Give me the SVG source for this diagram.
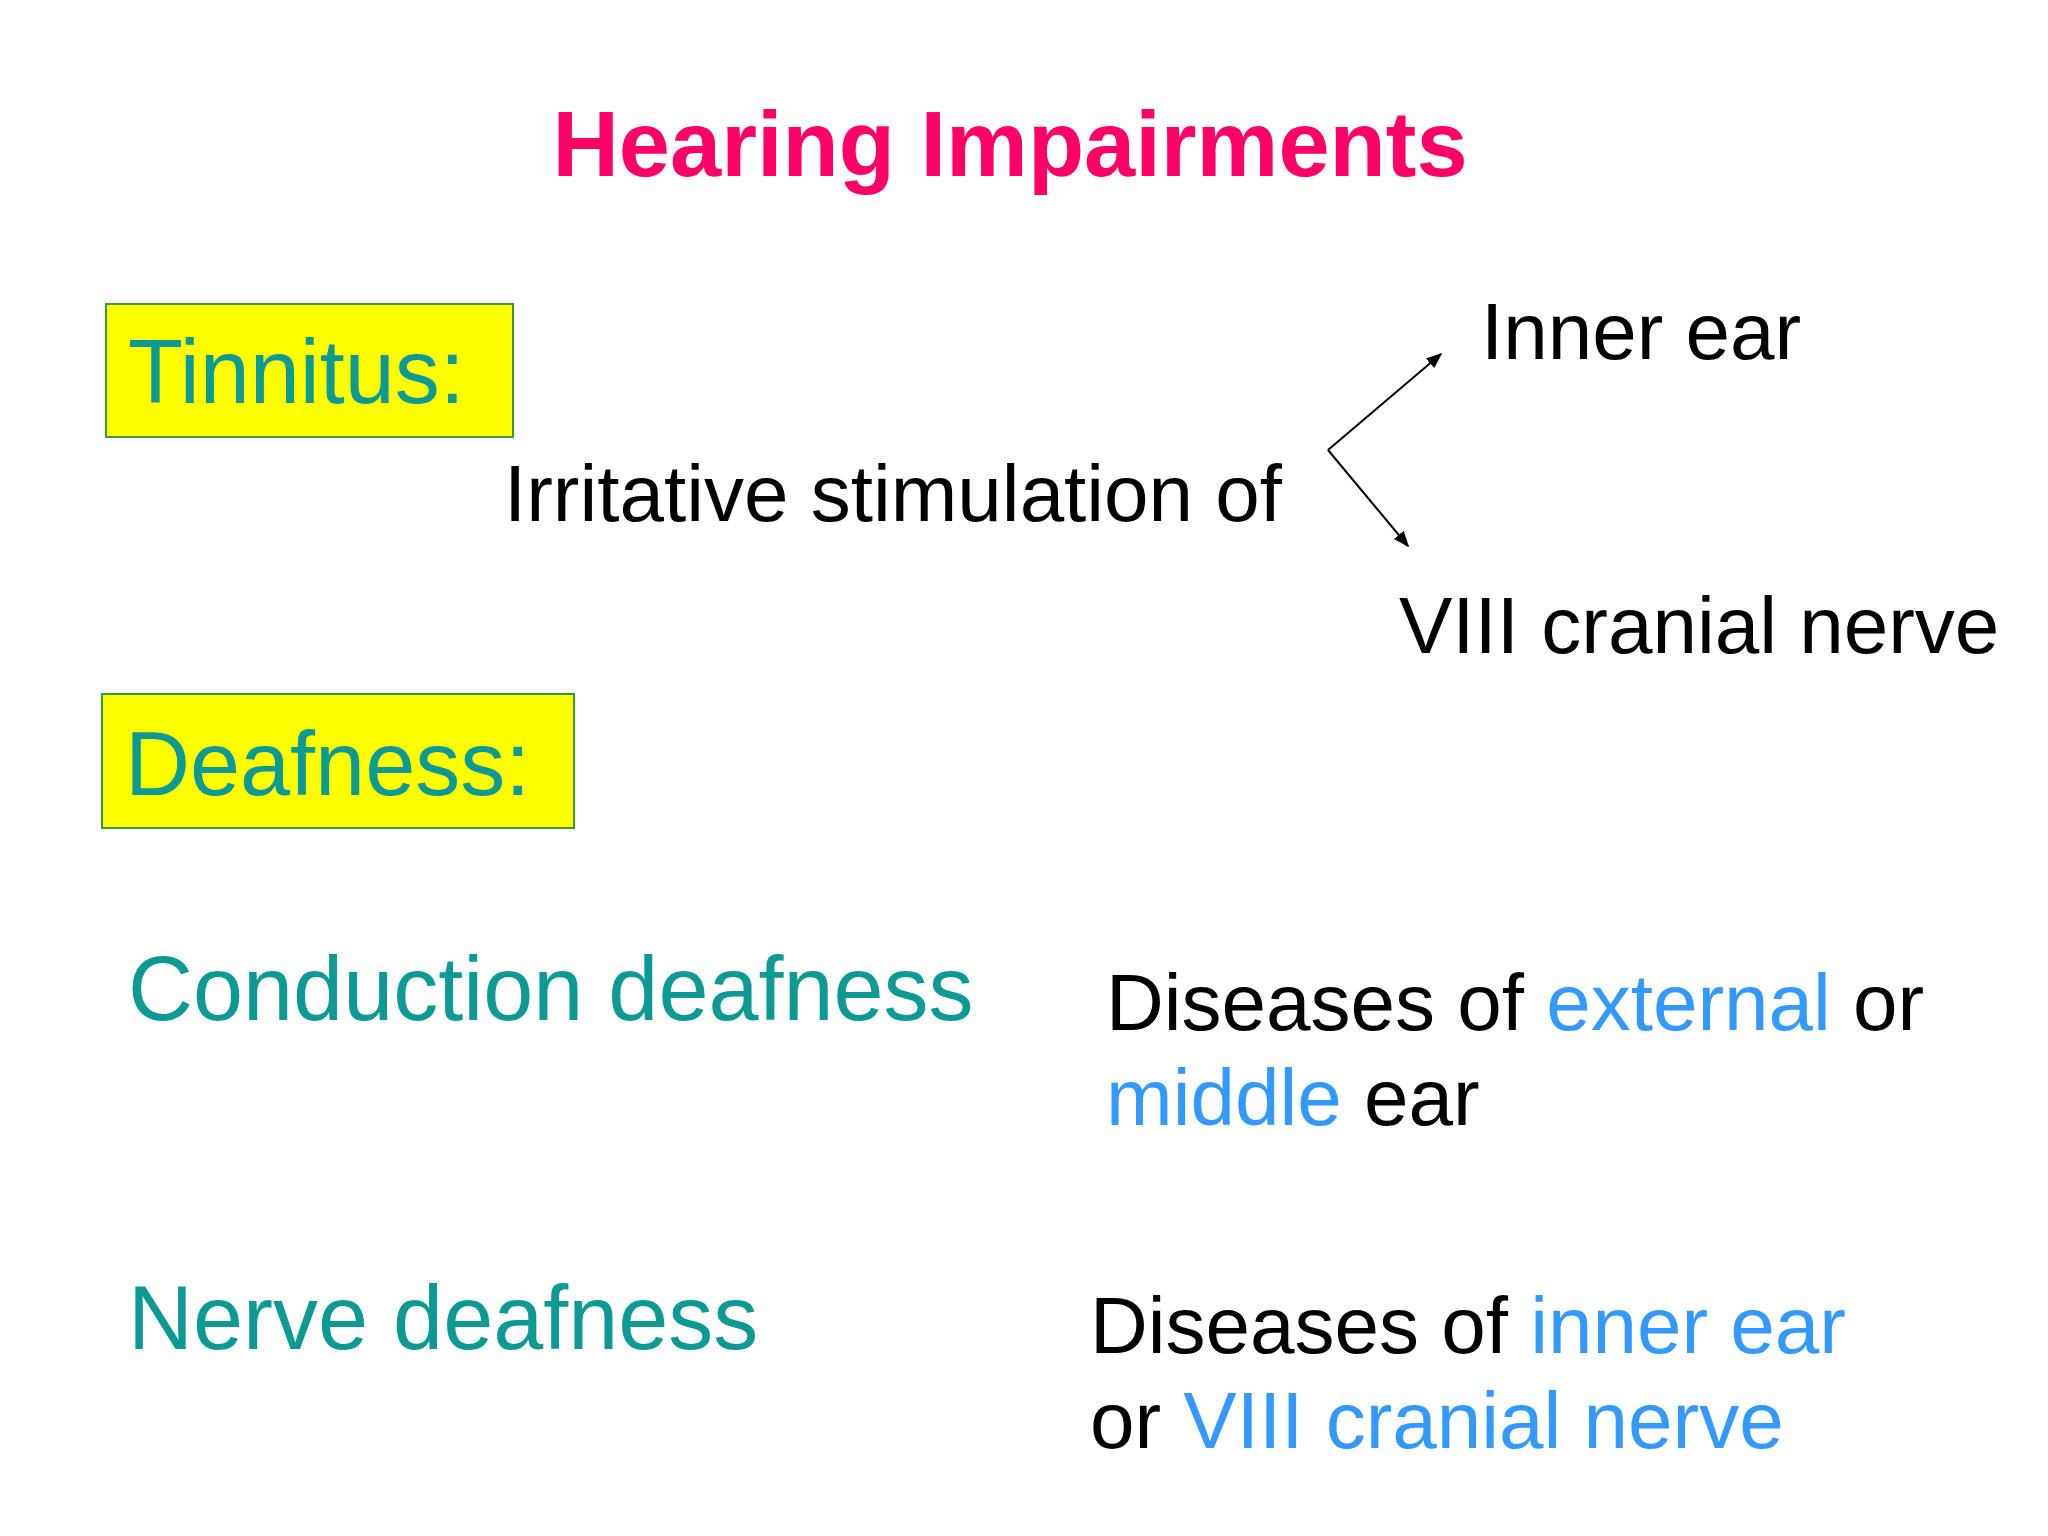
<svg xmlns="http://www.w3.org/2000/svg" width="2048" height="1536" viewBox="0 0 2048 1536">
<style>
text{font-family:"Liberation Sans",Arial,sans-serif}
.k{fill:#000;font-size:80px}
.t{fill:#0e9a94;font-size:90px}
.b{fill:#3399ff}
.box{fill:#ffff00;stroke:#3a9a3a;stroke-width:2}
</style>
<defs><marker id="ar" viewBox="0 0 10 10" refX="9" refY="5" markerWidth="8" markerHeight="8" orient="auto"><path d="M0,1 L10,5 L0,9z" fill="#000"/></marker></defs>
<rect width="2048" height="1536" fill="#fff"/>
<text x="1010" y="176" text-anchor="middle" font-size="92" font-weight="bold" fill="#ff0066">Hearing Impairments</text>
<g id="tinnitus"><rect class="box" x="106" y="304" width="407" height="133"/><text class="t" x="128" y="403">Tinnitus:</text></g>
<g id="irritative"><text class="k" x="504" y="521">Irritative stimulation of</text></g>
<g id="inner"><text class="k" x="1481" y="359">Inner ear</text></g>
<g id="viii"><text class="k" x="1399" y="653">VIII cranial nerve</text></g>
<g id="connectors" stroke="#000" stroke-width="2" fill="none">
<path d="M1328,450 L1441,354" marker-end="url(#ar)"/>
<path d="M1328,450 L1408,546" marker-end="url(#ar)"/>
</g>
<g id="deafness"><rect class="box" x="102" y="694" width="472" height="134"/><text class="t" x="125" y="795">Deafness:</text></g>
<g id="conduction"><text class="t" x="128" y="1020">Conduction deafness</text></g>
<g id="cond-desc"><text class="k" x="1106" y="1030">Diseases of <tspan class="b">external</tspan> or</text><text class="k" x="1106" y="1125"><tspan class="b">middle</tspan> ear</text></g>
<g id="nerve"><text class="t" x="128" y="1349">Nerve deafness</text></g>
<g id="nerve-desc"><text class="k" x="1090" y="1353">Diseases of <tspan class="b">inner ear</tspan></text><text class="k" x="1090" y="1448">or <tspan class="b">VIII cranial nerve</tspan></text></g>
</svg>
